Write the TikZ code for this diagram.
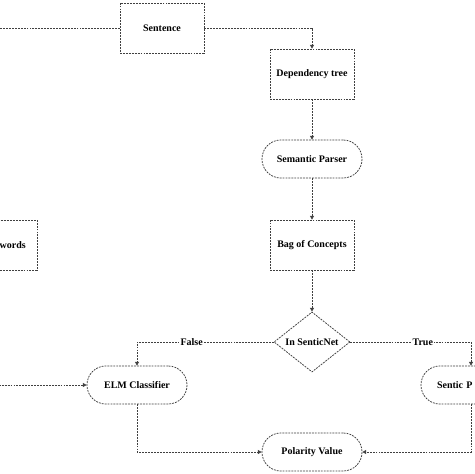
\documentclass[tikz,border=0pt]{standalone}
\usepackage{fontspec}
\setmainfont{Liberation Serif}
\usetikzlibrary{shapes.geometric,arrows.meta}
\tikzset{
  flow/.style={draw=black!75,line width=0.65pt,dash pattern=on 1.6pt off 0.9pt},
  arr/.style={flow,-{Triangle[length=3.2pt,width=3.4pt]}},
  boxnode/.style={flow,rectangle,minimum width=71.4pt,minimum height=42.5pt,font=\fontsize{8.5}{10}\selectfont\bfseries,inner sep=1pt},
  pill/.style={flow,rectangle,rounded corners=16pt,minimum width=85pt,minimum height=32.3pt,font=\fontsize{8.5}{10}\selectfont\bfseries,inner sep=1pt},
  test/.style={flow,diamond,minimum width=64.6pt,minimum height=49.3pt,inner sep=0pt,font=\fontsize{8.5}{10}\selectfont\bfseries},
  lbl/.style={fill=white,inner sep=1pt,font=\fontsize{8.5}{10}\selectfont\bfseries}
}
\begin{document}
\begin{tikzpicture}[x=0.85pt,y=-0.85pt]
\fill[white] (0,0) rectangle (474,474);
\useasboundingbox (0,0) rectangle (474,474);
% main column
\node[boxnode] (sent) at (162,28) {Sentence};
\node[boxnode] (dep) at (312,74) {Dependency tree};
\node[pill] (parser) at (312,159) {Semantic Parser};
\node[boxnode] (boc) at (312,245) {Bag of Concepts};
\node[test] (net) at (312,342) {In SenticNet};
\node[pill] (elm) at (137,385) {ELM Classifier};
\node[pill,inner xsep=13.6pt,text width=57.8pt,align=left] (sp) at (471,385) {Sentic P};
\node[pill] (pol) at (312,452) {Polarity Value};
% left branch
\node[boxnode,inner xsep=9.6pt,text width=52.2pt,align=right] (bow) at (-5,245) {words};
\coordinate (sentin) at (-10,28);
\coordinate (elmin) at (-10,385);
% connectors
\draw[flow] (sent.west) -- (sentin);
\draw[arr] (sent.east) -| (dep.north);
\draw[arr] (dep) -- (parser);
\draw[arr] (parser) -- (boc);
\draw[arr] (boc) -- (net);
\draw[arr] (net.west) -| node[lbl,pos=0.3]{False} (elm.north);
\draw[arr] (net.east) -| node[lbl,pos=0.3]{True} (sp.north);
\draw[arr] (elmin) -- (elm.west);
\draw[arr] (elm.south) |- (pol.west);
\draw[arr] (sp.south) |- (pol.east);
\end{tikzpicture}
\end{document}
